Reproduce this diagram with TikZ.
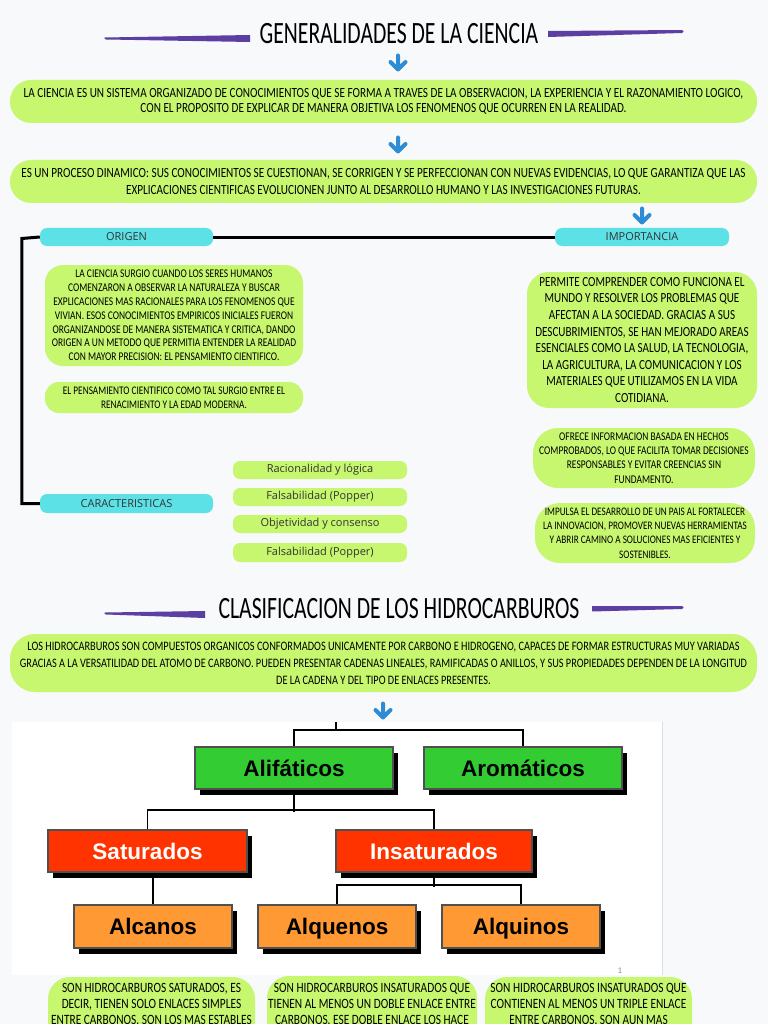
\documentclass[tikz,border=0pt]{standalone}
\usepackage{fontspec}
\setmainfont{Carlito}
\newfontfamily\hand[FakeStretch=0.8]{Carlito}
\newfontfamily\handT[FakeStretch=0.7]{Carlito}
\newfontfamily\osans{Open Sans}
\newfontfamily\arialf{Liberation Sans}
\definecolor{bg}{HTML}{F8F9FB}
\definecolor{lime}{HTML}{C6F76F}
\definecolor{cyanb}{HTML}{5CE1E6}
\definecolor{purp}{HTML}{5B3FA2}
\definecolor{arrowblue}{HTML}{2D8CD3}
\definecolor{gbox}{HTML}{33CC33}
\definecolor{rbox}{HTML}{FF3300}
\definecolor{obox}{HTML}{FF9933}
\definecolor{bordergray}{HTML}{505050}
\definecolor{txtgray}{HTML}{333333}
\tikzset{
  limebox/.style={fill=lime, inner sep=0pt, align=center, text=black},
  cyanbox/.style={fill=cyanb, rounded corners=7pt, inner sep=0pt, minimum width=173pt, minimum height=18pt, font=\osans\fontsize{11}{13}\selectfont, text=txtgray},
  charbox/.style={fill=lime, rounded corners=7pt, inner sep=0pt, minimum width=174pt, minimum height=18pt, font=\osans\fontsize{11}{13}\selectfont, text=txtgray},
  treebox/.style={draw=bordergray, line width=1.5pt, inner sep=0pt, text height=16pt, text depth=0pt, font=\arialf\bfseries\fontsize{22.5}{24}\selectfont},
  shadowbox/.style={fill=black, inner sep=0pt},
  conn/.style={draw=black, line width=1.6pt},
  bracket/.style={draw=black, line width=3pt},
  titletext/.style={font=\handT\fontsize{31}{34}\selectfont, text=black},
  downarr/.pic={\draw[arrowblue, line width=4pt, line cap=round, line join=round] (0,-7.5) -- (0,6.5) (-7.5,-1) -- (0,6.5) -- (7.5,-1);}
}
\begin{document}
\begin{tikzpicture}[x=1pt,y=-1pt]
\useasboundingbox (0,0) rectangle (768,1024);
\fill[bg] (0,0) rectangle (768,1024);
\clip (0,0) rectangle (768,1024);

% ---------- Title 1
\fill[purp] (105,37.5) .. controls (104,38.5) .. (106,39.5) -- (250,42) -- (250,35) -- cycle;
\fill[purp] (548,31) -- (548,37) -- (682,33) .. controls (684,31.5) .. (682,30) -- cycle;
\node[titletext] (title1) at (399,34) {GENERALIDADES DE LA CIENCIA};
\pic at (398,63) {downarr};

\node[limebox, rounded corners=21pt, minimum width=747pt, minimum height=43pt,
  font=\hand\fontsize{14}{15}\selectfont] (def) at (383.5,101.5)
  {LA CIENCIA ES UN SISTEMA ORGANIZADO DE CONOCIMIENTOS QUE SE FORMA A TRAVES DE LA OBSERVACION, LA EXPERIENCIA Y EL RAZONAMIENTO LOGICO,\\
   CON EL PROPOSITO DE EXPLICAR DE MANERA OBJETIVA LOS FENOMENOS QUE OCURREN EN LA REALIDAD.};
\pic at (398,145) {downarr};

\node[limebox, rounded corners=21pt, minimum width=747pt, minimum height=43pt,
  font=\hand\fontsize{14}{16.5}\selectfont] (proc) at (383.5,181.5)
  {ES UN PROCESO DINAMICO: SUS CONOCIMIENTOS SE CUESTIONAN, SE CORRIGEN Y SE PERFECCIONAN CON NUEVAS EVIDENCIAS, LO QUE GARANTIZA QUE LAS\\
   EXPLICACIONES CIENTIFICAS EVOLUCIONEN JUNTO AL DESARROLLO HUMANO Y LAS INVESTIGACIONES FUTURAS.};
\pic at (642,216) {downarr};

% ---------- Origen / Importancia / Caracteristicas
\node[cyanbox] (origen) at (126.5,237) {ORIGEN};
\node[cyanbox, minimum width=174pt] (imp) at (642,237) {IMPORTANCIA};
\node[cyanbox, minimum height=19pt] (carac) at (126.5,503.5) {CARACTERISTICAS};
\draw[bracket] (origen.east) -- (imp.west);
\draw[bracket] (origen.west) -- ++(-18,1.5) coordinate (bk1) -- (bk1 |- carac.west) -- (carac.west);

\node[limebox, rounded corners=18pt, minimum width=258pt, minimum height=101pt,
  font=\hand\fontsize{11.8}{13.8}\selectfont] (orig1) at (174,315.5)
  {LA CIENCIA SURGIO CUANDO LOS SERES HUMANOS\\
   COMENZARON A OBSERVAR LA NATURALEZA Y BUSCAR\\
   EXPLICACIONES MAS RACIONALES PARA LOS FENOMENOS QUE\\
   VIVIAN. ESOS CONOCIMIENTOS EMPIRICOS INICIALES FUERON\\
   ORGANIZANDOSE DE MANERA SISTEMATICA Y CRITICA, DANDO\\
   ORIGEN A UN METODO QUE PERMITIA ENTENDER LA REALIDAD\\
   CON MAYOR PRECISION: EL PENSAMIENTO CIENTIFICO.};
\node[limebox, rounded corners=14pt, minimum width=258pt, minimum height=31pt,
  font=\hand\fontsize{11.6}{14}\selectfont] (orig2) at (174,397.5)
  {EL PENSAMIENTO CIENTIFICO COMO TAL SURGIO ENTRE EL\\
   RENACIMIENTO Y LA EDAD MODERNA.};

\node[limebox, rounded corners=22pt, minimum width=230pt, minimum height=136pt,
  font=\hand\fontsize{13.9}{16.6}\selectfont] (imp1) at (642,340)
  {PERMITE COMPRENDER COMO FUNCIONA EL\\
   MUNDO Y RESOLVER LOS PROBLEMAS QUE\\
   AFECTAN A LA SOCIEDAD. GRACIAS A SUS\\
   DESCUBRIMIENTOS, SE HAN MEJORADO AREAS\\
   ESENCIALES COMO LA SALUD, LA TECNOLOGIA,\\
   LA AGRICULTURA, LA COMUNICACION Y LOS\\
   MATERIALES QUE UTILIZAMOS EN LA VIDA\\
   COTIDIANA.};
\node[limebox, rounded corners=25pt, minimum width=222pt, minimum height=60pt,
  font=\hand\fontsize{11.8}{14.2}\selectfont] (imp2) at (644,458)
  {OFRECE INFORMACION BASADA EN HECHOS\\
   COMPROBADOS, LO QUE FACILITA TOMAR DECISIONES\\
   RESPONSABLES Y EVITAR CREENCIAS SIN\\
   FUNDAMENTO.};
\node[limebox, rounded corners=25pt, minimum width=220pt, minimum height=60pt,
  font=\hand\fontsize{11.5}{14.4}\selectfont] (imp3) at (645,533)
  {IMPULSA EL DESARROLLO DE UN PAIS AL FORTALECER\\
   LA INNOVACION, PROMOVER NUEVAS HERRAMIENTAS\\
   Y ABRIR CAMINO A SOLUCIONES MAS EFICIENTES Y\\
   SOSTENIBLES.};

\node[charbox] (c1) at (320,470) {Racionalidad y lógica};
\node[charbox] (c2) at (320,497) {Falsabilidad (Popper)};
\node[charbox] (c3) at (320,524) {Objetividad y consenso};
\node[charbox, minimum height=19pt] (c4) at (320,552.5) {Falsabilidad (Popper)};

% ---------- Title 2
\fill[purp] (105,612.5) .. controls (104,613.5) .. (106,614.5) -- (205,618) -- (205,611) -- cycle;
\fill[purp] (592,606) -- (592,611.5) -- (682,609) .. controls (684,607.5) .. (682,606) -- cycle;
\node[titletext] (title2) at (399,609) {CLASIFICACION DE LOS HIDROCARBUROS};

\node[limebox, rounded corners=25pt, minimum width=747pt, minimum height=58pt,
  font=\hand\fontsize{12.9}{17}\selectfont] (hidro) at (383.5,663)
  {LOS HIDROCARBUROS SON COMPUESTOS ORGANICOS CONFORMADOS UNICAMENTE POR CARBONO E HIDROGENO, CAPACES DE FORMAR ESTRUCTURAS MUY VARIADAS\\
   GRACIAS A LA VERSATILIDAD DEL ATOMO DE CARBONO. PUEDEN PRESENTAR CADENAS LINEALES, RAMIFICADAS O ANILLOS, Y SUS PROPIEDADES DEPENDEN DE LA LONGITUD\\
   DE LA CADENA Y DEL TIPO DE ENLACES PRESENTES.};
\pic at (383,711) {downarr};

% ---------- Tree panel
\fill[white] (12,722) rectangle (662,975);
\draw[black!12, line width=0.8pt] (662,722) -- (662,975);
\node[font=\arialf\fontsize{8}{9}\selectfont, text=black!45] (pgnum) at (620,971) {1};

\foreach \n/\x/\y/\w/\h/\c/\t/\tc in {
  alif/294/768/198/42/gbox/Alifáticos/black,
  arom/523/768/198/42/gbox/Aromáticos/black,
  sat/147.5/851/199/42/rbox/Saturados/white,
  insat/434/851/196/42/rbox/Insaturados/white,
  alc/153/926.5/158/43/obox/Alcanos/black,
  alqe/337/926.5/158/43/obox/Alquenos/black,
  alqi/521/926.5/158/43/obox/Alquinos/black}{
  \node[shadowbox, minimum width=\w pt, minimum height=\h pt] (\n sh) at (\x+5,\y+6) {};
  \node[treebox, fill=\c, text=\tc, minimum width=\w pt, minimum height=\h pt] (\n) at (\x,\y) {\t};
}
\coordinate (treetop) at (336,722);
\draw[conn] (treetop) -- ++(0,9);
\draw[conn] (alif.north) -- ++(0,-16) -| (arom.north);
\draw[conn] (alif.south) -- ++(0,22);
\draw[conn] (sat.north) -- ++(0,-19) -| (insat.north);
\draw[conn] (alc.north) -- (alc.north |- sat.south);
\draw[conn] (insat.south) -- ++(0,14);
\draw[conn] (alqe.north) -- ++(0,-19) -| (alqi.north);

% ---------- Bottom boxes (cut by page edge, as in the reference)
\node[limebox, rounded corners=22pt, minimum width=207pt, minimum height=100pt] (b1) at (151.5,1027) {};
\node[limebox, rounded corners=22pt, minimum width=210pt, minimum height=100pt] (b2) at (372,1026) {};
\node[limebox, rounded corners=22pt, minimum width=207pt, minimum height=100pt] (b3) at (588.5,1027) {};
\node[anchor=north, align=center, inner sep=0pt, font=\hand\fontsize{14.2}{16}\selectfont] (b1t) at (b1.north |- 0,983)
  {SON HIDROCARBUROS SATURADOS, ES\\ DECIR, TIENEN SOLO ENLACES SIMPLES\\ ENTRE CARBONOS. SON LOS MAS ESTABLES};
\node[anchor=north, align=center, inner sep=0pt, font=\hand\fontsize{14.2}{16}\selectfont] (b2t) at (b2.north |- 0,983)
  {SON HIDROCARBUROS INSATURADOS QUE\\ TIENEN AL MENOS UN DOBLE ENLACE ENTRE\\ CARBONOS. ESE DOBLE ENLACE LOS HACE};
\node[anchor=north, align=center, inner sep=0pt, font=\hand\fontsize{14.2}{16}\selectfont] (b3t) at (b3.north |- 0,983)
  {SON HIDROCARBUROS INSATURADOS QUE\\ CONTIENEN AL MENOS UN TRIPLE ENLACE\\ ENTRE CARBONOS. SON AUN MAS};
\end{tikzpicture}
\end{document}
